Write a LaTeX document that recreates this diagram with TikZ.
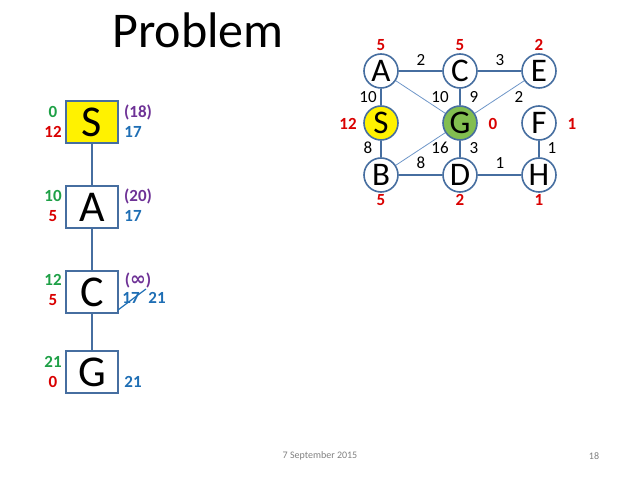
\documentclass[tikz,border=0pt]{standalone}
\usepackage{fontspec}
\setmainfont{Carlito}
\definecolor{edge}{RGB}{70,110,160}
\definecolor{thin}{RGB}{110,150,200}
\definecolor{gfill}{RGB}{130,190,80}
\definecolor{blu}{RGB}{30,110,180}
\definecolor{pur}{RGB}{110,50,150}
\definecolor{grn}{RGB}{30,160,70}
\begin{document}
\begin{tikzpicture}[x=1pt,y=-1pt,
  vn/.style={circle,draw=edge,line width=1.6pt,fill=white,minimum size=34pt,inner sep=0pt,font=\fontsize{33}{33}\selectfont},
  tb/.style={draw=edge,line width=1.3pt,fill=white,minimum width=52pt,minimum height=42pt,inner sep=0pt,font=\fontsize{44}{44}\selectfont},
  thk/.style={draw=edge,line width=1.6pt},
  thn/.style={draw=thin,line width=0.8pt},
  hl/.style={text=red!85!black,font=\bfseries\fontsize{17}{17}\selectfont},
  gl/.style={text=grn,font=\bfseries\fontsize{17}{17}\selectfont},
  pl/.style={text=pur,font=\bfseries\fontsize{17}{17}\selectfont},
  bl/.style={text=blu,font=\bfseries\fontsize{17}{17}\selectfont},
  el/.style={font=\fontsize{17}{17}\selectfont}]
\useasboundingbox (0,0) rectangle (638,478);
\node (title) at (198,30) {\fontsize{50}{50}\selectfont Problem};
% graph
\node[vn] (A) at (381,71) {A};
\node[vn] (C) at (460,71) {C};
\node[vn] (E) at (539,71) {E};
\node[vn,fill=yellow] (S) at (381,123) {S};
\node[vn,fill=gfill] (G) at (460,123) {G};
\node[vn] (F) at (539,123) {F};
\node[vn] (B) at (381,175) {B};
\node[vn] (D) at (460,175) {D};
\node[vn] (H) at (539,175) {H};
\draw[thn] (A) -- (G); \draw[thn] (E) -- (G); \draw[thn] (B) -- (G);
\draw[thk] (A) -- (C); \draw[thk] (C) -- (E); \draw[thk] (A) -- (S);
\draw[thk] (S) -- (B); \draw[thk] (C) -- (G); \draw[thk] (G) -- (D);
\draw[thk] (B) -- (D); \draw[thk] (D) -- (H); \draw[thk] (F) -- (H);
\node[el] (e1) at (421,60) {2}; \node[el] (e2) at (500,60) {3};
\node[el] (e3) at (368,97) {10}; \node[el] (e4) at (440,97) {10};
\node[el] (e5) at (474,97) {9}; \node[el] (e6) at (519,97) {2};
\node[el] (e7) at (368,148) {8}; \node[el] (e8) at (440,148) {16};
\node[el] (e9) at (474,148) {3}; \node[el] (e10) at (421,163) {8};
\node[el] (e11) at (500,163) {1}; \node[el] (e12) at (552,148) {1};
\node[hl] (hA) at (381,45) {5}; \node[hl] (hC) at (460,45) {5}; \node[hl] (hE) at (539,45) {2};
\node[hl] (hS) at (348,124) {12}; \node[hl] (hG) at (493,124) {0}; \node[hl] (hF) at (572,124) {1};
\node[hl] (hB) at (381,200) {5}; \node[hl] (hD) at (460,200) {2}; \node[hl] (hH) at (539,200) {1};
% tree
\node[tb,fill=yellow] (tS) at (92,122) {S};
\node[tb] (tA) at (92,207) {A};
\node[tb] (tC) at (92,292) {C};
\node[tb] (tG) at (92,372) {G};
\draw[thk,line width=1.3pt] (tS) -- (tA); \draw[thk,line width=1.3pt] (tA) -- (tC); \draw[thk,line width=1.3pt] (tC) -- (tG);
\node[gl] (g1) at (53,112) {0}; \node[hl] (r1) at (53,132) {12};
\node[pl] (p1) at (138,112) {(18)}; \node[bl] (b1) at (133,132) {17};
\node[gl] (g2) at (53,196) {10}; \node[hl] (r2) at (53,216) {5};
\node[pl] (p2) at (138,196) {(20)}; \node[bl] (b2) at (133,216) {17};
\node[gl] (g3) at (53,280) {12}; \node[hl] (r3) at (53,300) {5};
\node[pl] (p3) at (138,280) {(\fontspec{DejaVu Sans}\bfseries\fontsize{19}{19}\selectfont ∞\fontspec{Carlito}\bfseries\fontsize{17}{17}\selectfont)}; \node[bl] (b3) at (131,298) {17};
\node[bl] (b3b) at (157,298) {21};
\coordinate (s1) at (118,310); \coordinate (s2) at (146,289);
\draw[blu,line width=1.2pt] (s1) -- (s2);
\node[gl] (g4) at (53,362) {21}; \node[hl] (r4) at (53,382) {0};
\node[bl] (b4) at (133,382) {21};
\node[text=gray,font=\fontsize{10}{10}\selectfont] (date) at (320,456) {7 September 2015};
\node[text=gray,font=\fontsize{10}{10}\selectfont] (pg) at (594,456) {18};
\end{tikzpicture}
\end{document}
